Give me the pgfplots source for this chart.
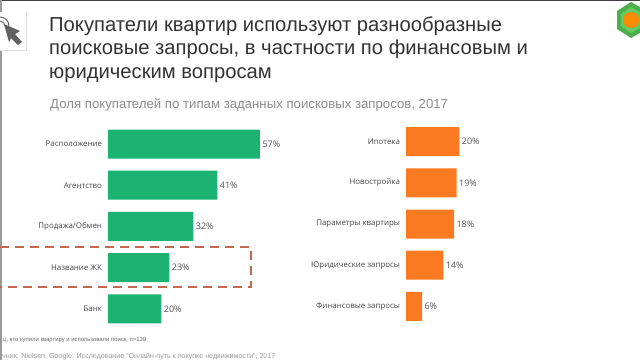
\documentclass[border=0pt]{standalone}
\usepackage{pgfplots}
\pgfplotsset{compat=1.18}
\usepackage{fontspec}
\setmainfont{Liberation Sans}
\newfontfamily\lblfont{Open Sans}
\definecolor{grn}{HTML}{1BB272}
\definecolor{org}{HTML}{FB7A21}
\definecolor{dashc}{HTML}{C4674F}
\pgfplotsset{
 chartaxis/.style={
  scale only axis, xbar, bar width=29pt,
  width=160pt, height=206pt, xmin=0, xmax=60, ymin=-0.5, ymax=4.5, y dir=reverse,
  axis x line=none, axis y line=left, axis line style={draw=none}, 
  ytick={0,1,2,3,4}, major tick length=0pt, tick style={draw=none},
  yticklabel style={font=\lblfont\fontsize{7.9}{9}\selectfont, text=black!72, anchor=east, xshift=-2.5pt},
  /pgf/number format/assume math mode=true,
  nodes near coords={\pgfmathprintnumber{\pgfplotspointmeta}\%},
  point meta=x,
  nodes near coords style={font=\lblfont\fontsize{9}{10}\selectfont, text=black!68, anchor=west, xshift=-1pt},
  clip=false,
 }
}
\begin{document}
\begin{tikzpicture}[x=1pt,y=1pt]
\clip (0,0) rectangle (640,360);
\fill[white] (0,0) rectangle (640,360);
\fill[black!75] (0,359) rectangle (640,360);
\fill[black!40] (0,0) rectangle (1.5,360);
% pointer icon
\fill[black!12] (0,309) rectangle (26.5,348);
\fill[white] (0,310) rectangle (25.5,348);
\fill[black!62] (4,336) -- (20,329) -- (15,326) -- (22,318) -- (18,315) -- (11,322) -- (9,318) -- cycle;
\draw[black!60,line width=1pt] (0,343) arc (90:0:9);
\draw[black!60,line width=1pt] (0,339) arc (90:0:5);
% logo
\fill[green!55!black!70!white] (631,358) -- (647,349) -- (647,331) -- (631,322) -- (617,331) -- (617,349) -- cycle;
\fill[green!65!black!60!white] (631,353) -- (643,346) -- (643,334) -- (631,327) -- (621,334) -- (621,346) -- cycle;
\fill[orange!90!yellow] (631,340) circle (8);
% title
\begin{scope}[every node/.style={inner sep=0pt}]
\node[anchor=base west,font=\fontsize{20.2}{24}\selectfont,text=black!80] at (49,329) {Покупатели квартир используют разнообразные};
\node[anchor=base west,font=\fontsize{20.2}{24}\selectfont,text=black!80] at (49,306) {поисковые запросы, в частности по финансовым и};
\node[anchor=base west,font=\fontsize{20.2}{24}\selectfont,text=black!80] at (49,282) {юридическим вопросам};
\node[anchor=base west,font=\fontsize{13.2}{15}\selectfont,text=black!45] at (50,252) {Доля покупателей по типам заданных поисковых запросов, 2017};
\end{scope}
% charts
\begin{axis}[chartaxis, at={(108pt,30.6pt)}, anchor=south west,
  yticklabels={Расположение,Агентство,Продажа/Обмен,Название ЖК,Банк}]
\addplot[fill=grn,draw=none] coordinates {(57,0) (41,1) (32,2) (23,3) (20,4)};
\end{axis}
\begin{axis}[chartaxis, at={(406pt,33pt)}, anchor=south west,
  yticklabels={Ипотека,Новостройка,Параметры квартиры,Юридические запросы,Финансовые запросы}]
\addplot[fill=org,draw=none] coordinates {(20,0) (19,1) (18,2) (14,3) (6,4)};
\end{axis}
% highlight
\draw[dashc,line width=2.4pt,dash pattern=on 9pt off 6pt] (0,113) -- (251,113) -- (251,73) -- (0,73);
% footnotes
\begin{scope}[every node/.style={inner sep=0pt}]
\node[anchor=base west,font=\fontsize{5.9}{7}\selectfont,text=black!60] at (3,19) {ц, кто купили квартиру и использовали поиск, n=139};
\node[anchor=base west,font=\fontsize{7.1}{8}\selectfont,text=black!40] at (2,1.6) {чник: Nielsen, Google. Исследование “Онлайн-путь к покупке недвижимости”, 2017};
\end{scope}
\end{tikzpicture}
\end{document}
